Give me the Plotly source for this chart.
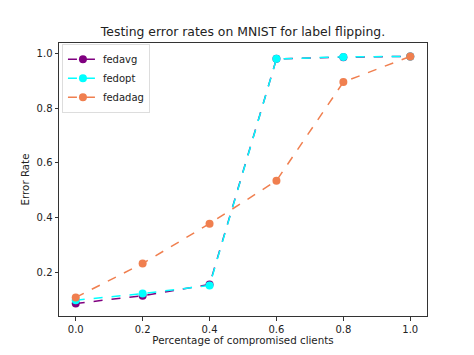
import plotly.graph_objects as go

x_vals = [0.0, 0.2, 0.4, 0.6, 0.8, 1.0]
fedavg = [0.086, 0.114, 0.155, 0.981, 0.987, 0.990]
fedopt = [0.098, 0.122, 0.152, 0.981, 0.988, 0.990]
fedadag = [0.108, 0.232, 0.378, 0.535, 0.896, 0.990]
x_ticks = [0.0, 0.2, 0.4, 0.6, 0.8, 1.0]
y_ticks = [0.2, 0.4, 0.6, 0.8, 1.0]

series = [("fedavg", fedavg, "purple"), ("fedopt", fedopt, "cyan"), ("fedadag", fedadag, "#f07f4f")]

fig = go.Figure()
for name, vals, col in series:
    fig.add_trace(go.Scatter(x=x_vals, y=vals, name=name, mode="lines+markers",
                             line=dict(color=col, dash="dash", width=1.5),
                             marker=dict(color=col, size=8)))

# the page body has an 8px default margin, so the figure is drawn 8px smaller and offset
W, H, OFF = 474 - 8, 355 - 8, 8
font = "DejaVu Sans"
fig.update_layout(
    width=W, height=H,
    margin=dict(l=59 - OFF, r=47, t=43 - OFF, b=39),
    paper_bgcolor="white", plot_bgcolor="white",
    font=dict(family=font, size=10, color="#222222"),
    title=dict(text="Testing error rates on MNIST for label flipping.", x=(243 - OFF) / W, xanchor="center",
               y=1 - (32 - OFF) / H, yanchor="middle", font=dict(size=12.4)),
    legend=dict(x=0.008, y=0.997, xanchor="left", yanchor="top", bgcolor="rgba(255,255,255,0.8)",
                bordercolor="#dddddd", borderwidth=1, font=dict(size=10), tracegroupgap=0,
                itemwidth=30),
    xaxis=dict(range=[-0.05, 1.05], tickvals=x_ticks, tickformat=".1f", showgrid=False,
               zeroline=False, showline=True, linecolor="#333333", mirror=True, ticks="outside",
               ticklen=3.5, tickcolor="#333333", automargin=False,
               title=dict(text="Percentage of compromised clients", standoff=3, font=dict(size=10.3))),
    yaxis=dict(range=[0.04, 1.039], tickvals=y_ticks, tickformat=".1f", showgrid=False,
               zeroline=False, showline=True, linecolor="#333333", mirror=True, ticks="outside",
               ticklen=3.5, tickcolor="#333333", automargin=False,
               title=dict(text="Error Rate", standoff=4, font=dict(size=10.3))),
)
fig.write_html("out.html")
